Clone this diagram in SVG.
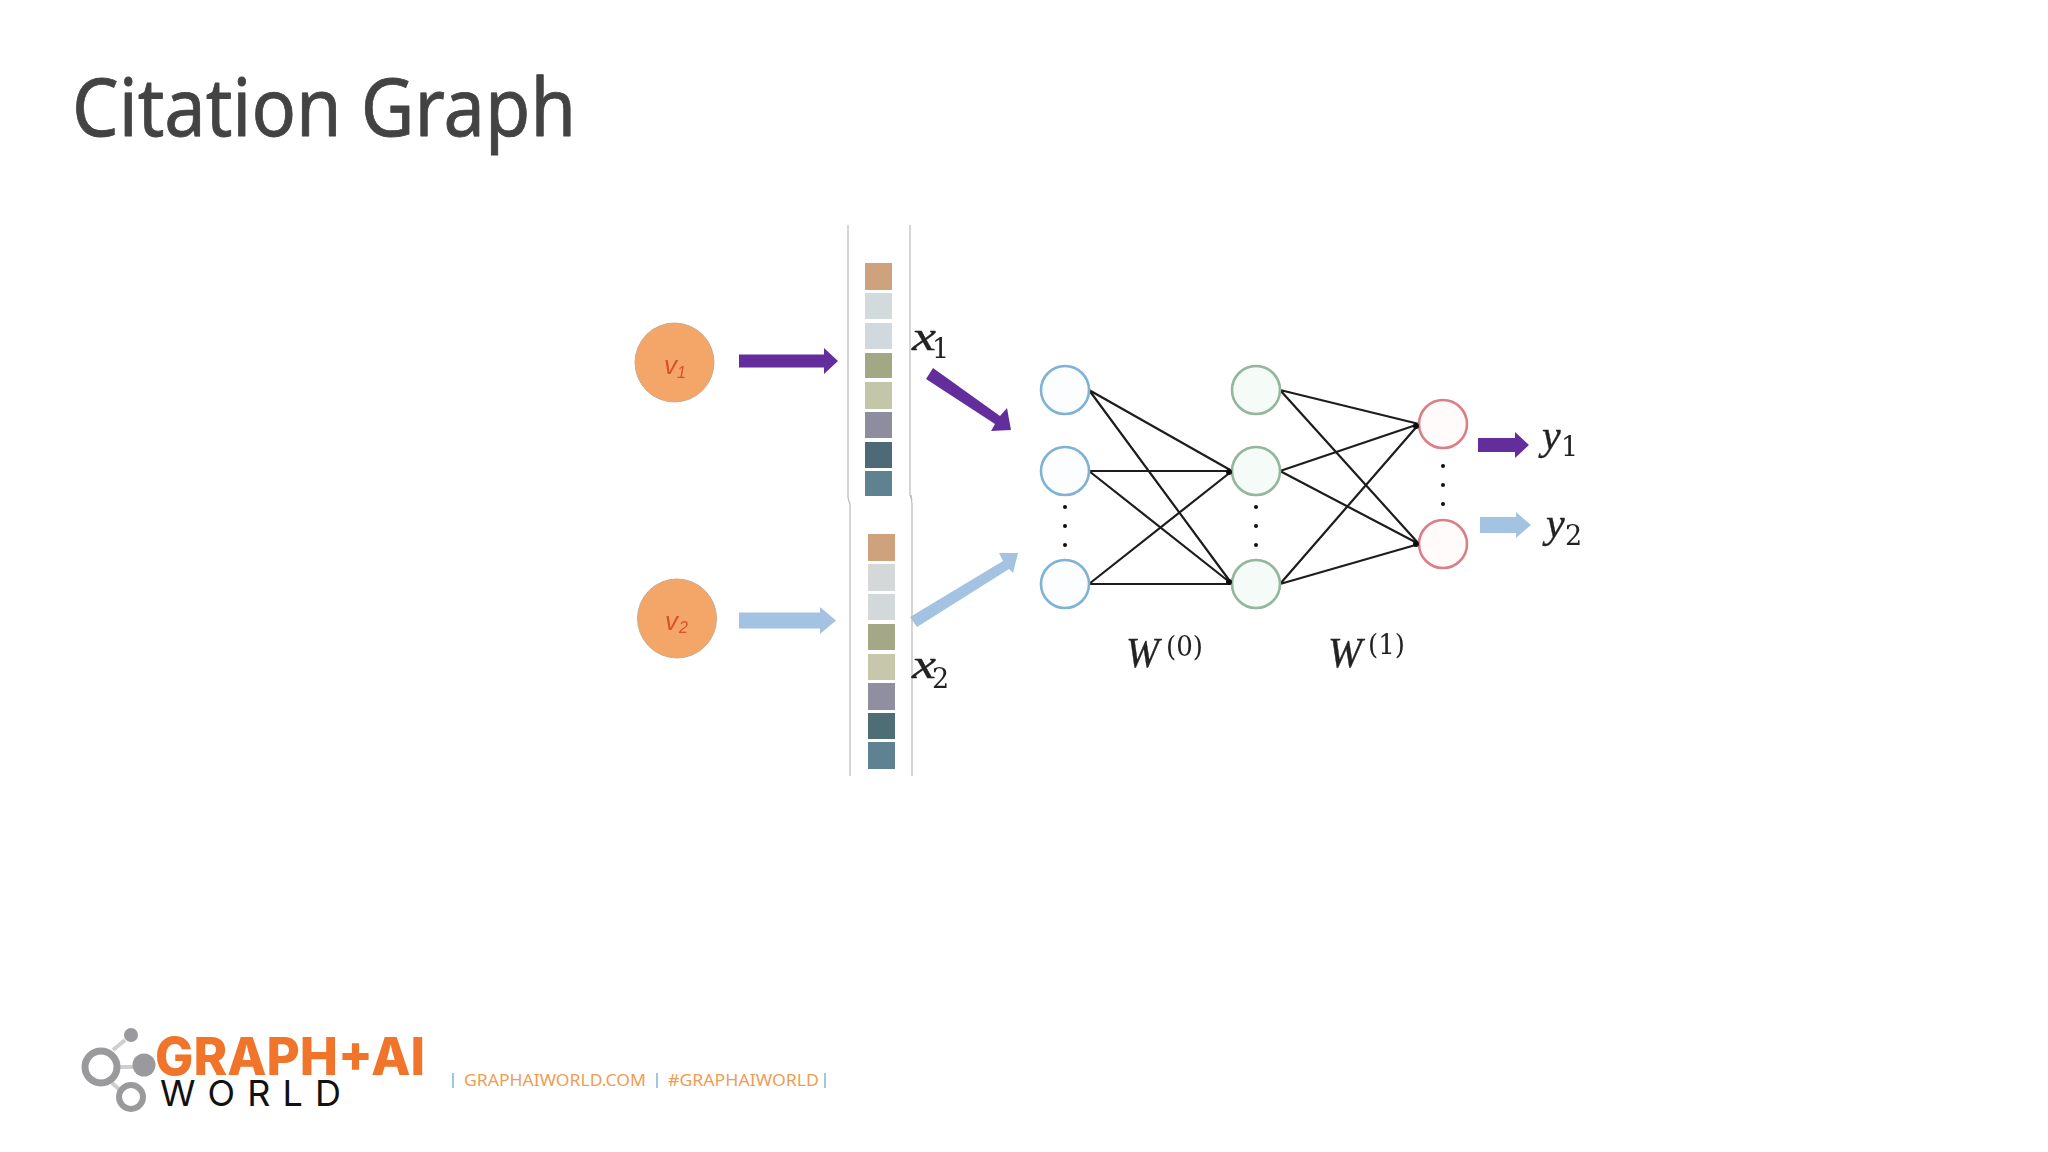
<svg xmlns="http://www.w3.org/2000/svg" width="2048" height="1152" viewBox="0 0 2048 1152">
<style>
.title{font:400 80px "Noto Sans","Open Sans",sans-serif;fill:#434343;stroke:#434343;stroke-width:.8;stroke-linejoin:round}
.math{font:italic 400 42px "Liberation Serif",serif;fill:#222;stroke:#222;stroke-width:.35}
.sub{font:400 27px "DejaVu Serif","Liberation Serif",serif;fill:#222}
.vlabel{font:italic 400 26px "Liberation Sans",sans-serif;fill:#d9512c}
.vsub{font:italic 400 16px "Liberation Sans",sans-serif;fill:#d9512c}
.rail{stroke:#b9b9b9;stroke-width:1.2;fill:none}
.edge{stroke:#1c1c1c;stroke-width:2.2;fill:none}
.blue{fill:#fbfdfe;stroke:#7fb2d4;stroke-width:2.6}
.green{fill:#f5fbf6;stroke:#93b69c;stroke-width:2.6}
.red{fill:#fffbfa;stroke:#da7f86;stroke-width:2.6}
.dot{fill:#111}
.purple{fill:#642f9b}
.lblue{fill:#a4c2e1}
.orange{fill:#f3a668;stroke:#c9a98d;stroke-width:1}
.foot{font:400 17px "Noto Sans","Lato",sans-serif;fill:#ee9d55}
.bar{stroke:#9cc9e2;stroke-width:2}
.ring{fill:none;stroke:#9a9a9c}
.link{stroke:#cfcfcf;stroke-width:4}
</style>
<defs>
<filter id="soft" x="-5%" y="-5%" width="110%" height="110%"><feGaussianBlur stdDeviation="0.6"/></filter>
</defs>
<rect width="2048" height="1152" fill="#fff"/>
<text class="title" x="72" y="136" textLength="504" lengthAdjust="spacingAndGlyphs">Citation Graph</text>

<g filter="url(#soft)">
<g id="connectors">
<path class="edge" d="M1089 390L1232 471M1089 390L1232 584M1089 471L1232 471M1089 471L1232 584M1089 584L1232 471M1089 584L1232 584"/>
<path class="edge" d="M1280 390L1419 424M1280 390L1419 544M1280 471L1419 424M1280 471L1419 544M1280 584L1419 424M1280 584L1419 544"/>
<path class="purple" d="M739 354.500H824V348L838 361L824 374V367.500H739Z"/>
<path class="lblue" d="M739 612.500H820V607L836 620.500L820 634V628.500H739Z"/>
<path class="purple" d="M933 368L1000 416L1007 408L1011 430L991 431L995 424L926 379Z"/>
<path class="lblue" d="M910 617L1003 561L999 553L1018 553L1013 573L1009 569L917 627Z"/>
<path class="purple" d="M1478 438H1515V432L1529 445L1515 458V452H1478Z"/>
<path class="lblue" d="M1480 517H1516V512L1531 525L1516 538V533H1480Z"/>
</g>

<g id="v1"><circle class="orange" cx="674.500" cy="362.500" r="39.500"/><text class="vlabel" x="664" y="374">v<tspan class="vsub" dy="4">1</tspan></text></g>
<g id="v2"><circle class="orange" cx="677" cy="618.500" r="39.500"/><text class="vlabel" x="665" y="630">v<tspan class="vsub" dx="1" dy="3" font-style="normal">2</tspan></text></g>

<g id="x1-vector">
<path class="rail" d="M848 225V498M910 225V495L912 500"/>
<rect x="865" y="263" width="27" height="27" fill="#cda27c"/>
<rect x="865" y="293" width="27" height="26" fill="#d2dadb"/>
<rect x="865" y="323" width="27" height="26" fill="#d1d9df"/>
<rect x="865" y="353" width="27" height="25" fill="#a2a884"/>
<rect x="865" y="382" width="27" height="27" fill="#c4c6aa"/>
<rect x="865" y="412" width="27" height="26" fill="#8d8d9f"/>
<rect x="865" y="442" width="27" height="26" fill="#4f6b77"/>
<rect x="865" y="471" width="27" height="25" fill="#5f8290"/>
</g>
<g id="x2-vector">
<path class="rail" d="M848 498L850 504V776M911 495L912 504V776"/>
<rect x="868" y="534" width="27" height="27" fill="#cda27c"/>
<rect x="868" y="564" width="27" height="27" fill="#d4d8d9"/>
<rect x="868" y="594" width="27" height="26" fill="#d3d9da"/>
<rect x="868" y="624" width="27" height="26" fill="#a4a886"/>
<rect x="868" y="654" width="27" height="26" fill="#c6c7ab"/>
<rect x="868" y="683" width="27" height="27" fill="#8f8f9f"/>
<rect x="868" y="713" width="27" height="26" fill="#4f6d74"/>
<rect x="868" y="742" width="27" height="27" fill="#5f8292"/>
</g>

<g id="input-layer">
<circle class="blue" cx="1065" cy="390" r="24"/><circle class="blue" cx="1065" cy="471" r="24"/><circle class="blue" cx="1065" cy="584" r="24"/>
<circle class="dot" cx="1065" cy="507" r="2"/><circle class="dot" cx="1065" cy="526" r="2"/><circle class="dot" cx="1065" cy="545" r="2"/>
</g>
<g id="hidden-layer">
<circle class="green" cx="1256" cy="390" r="24"/><circle class="green" cx="1256" cy="471" r="24"/><circle class="green" cx="1256" cy="584" r="24"/>
<circle class="dot" cx="1256" cy="507" r="2"/><circle class="dot" cx="1256" cy="526" r="2"/><circle class="dot" cx="1256" cy="545" r="2"/>
<circle class="dot" cx="1229" cy="472" r="3"/><circle class="dot" cx="1229" cy="582" r="3"/>
</g>
<g id="output-layer">
<circle class="red" cx="1443" cy="424" r="24"/><circle class="red" cx="1443" cy="544" r="24"/>
<circle class="dot" cx="1443" cy="466" r="2"/><circle class="dot" cx="1443" cy="485" r="2"/><circle class="dot" cx="1443" cy="504" r="2"/>
<circle class="dot" cx="1416" cy="426" r="3"/><circle class="dot" cx="1416" cy="544" r="3"/>
</g>

<g id="labels">
<text class="math" x="912" y="350" textLength="24" lengthAdjust="spacingAndGlyphs">x</text><text class="sub" x="932" y="358">1</text>
<text class="math" x="912" y="678" textLength="24" lengthAdjust="spacingAndGlyphs">x</text><text class="sub" x="932" y="688">2</text>
<text class="math" x="1542" y="449">y</text><text class="sub" x="1561" y="456">1</text>
<text class="math" x="1546" y="537">y</text><text class="sub" x="1565" y="545">2</text>
<text class="math" x="1126" y="667" textLength="33" lengthAdjust="spacingAndGlyphs">W</text><text class="sub" x="1166" y="656" textLength="37" lengthAdjust="spacingAndGlyphs">(0)</text>
<text class="math" x="1328" y="667" textLength="34" lengthAdjust="spacingAndGlyphs">W</text><text class="sub" x="1368" y="654" textLength="37" lengthAdjust="spacingAndGlyphs">(1)</text>
</g>
</g>

<g id="logo">
<path class="link" d="M113 1050L125 1040M120 1067H133M112 1083L120 1090"/>
<circle class="ring" cx="101" cy="1067" r="16" stroke-width="7"/>
<circle class="ring" cx="131" cy="1097" r="12" stroke-width="6"/>
<circle cx="144" cy="1065" r="11.500" fill="#9a9a9e"/>
<circle cx="131" cy="1035" r="7" fill="#9a9a9e"/>
<text x="155" y="1075" font-family="Inter,'Open Sans',sans-serif" font-weight="800" font-size="52" fill="#f0742a" textLength="270" lengthAdjust="spacingAndGlyphs">GRAPH+AI</text>
<text x="160" y="1106" font-family="Inter,'Open Sans',sans-serif" font-weight="400" font-size="36" fill="#111" textLength="181">WORLD</text>
</g>

<g id="footer">
<path class="bar" d="M453 1073V1088M657 1073V1088M825 1073V1088"/>
<text class="foot" x="464" y="1086" textLength="182" lengthAdjust="spacingAndGlyphs">GRAPHAIWORLD.COM</text>
<text class="foot" x="668" y="1086" textLength="151" lengthAdjust="spacingAndGlyphs">#GRAPHAIWORLD</text>
</g>
</svg>
